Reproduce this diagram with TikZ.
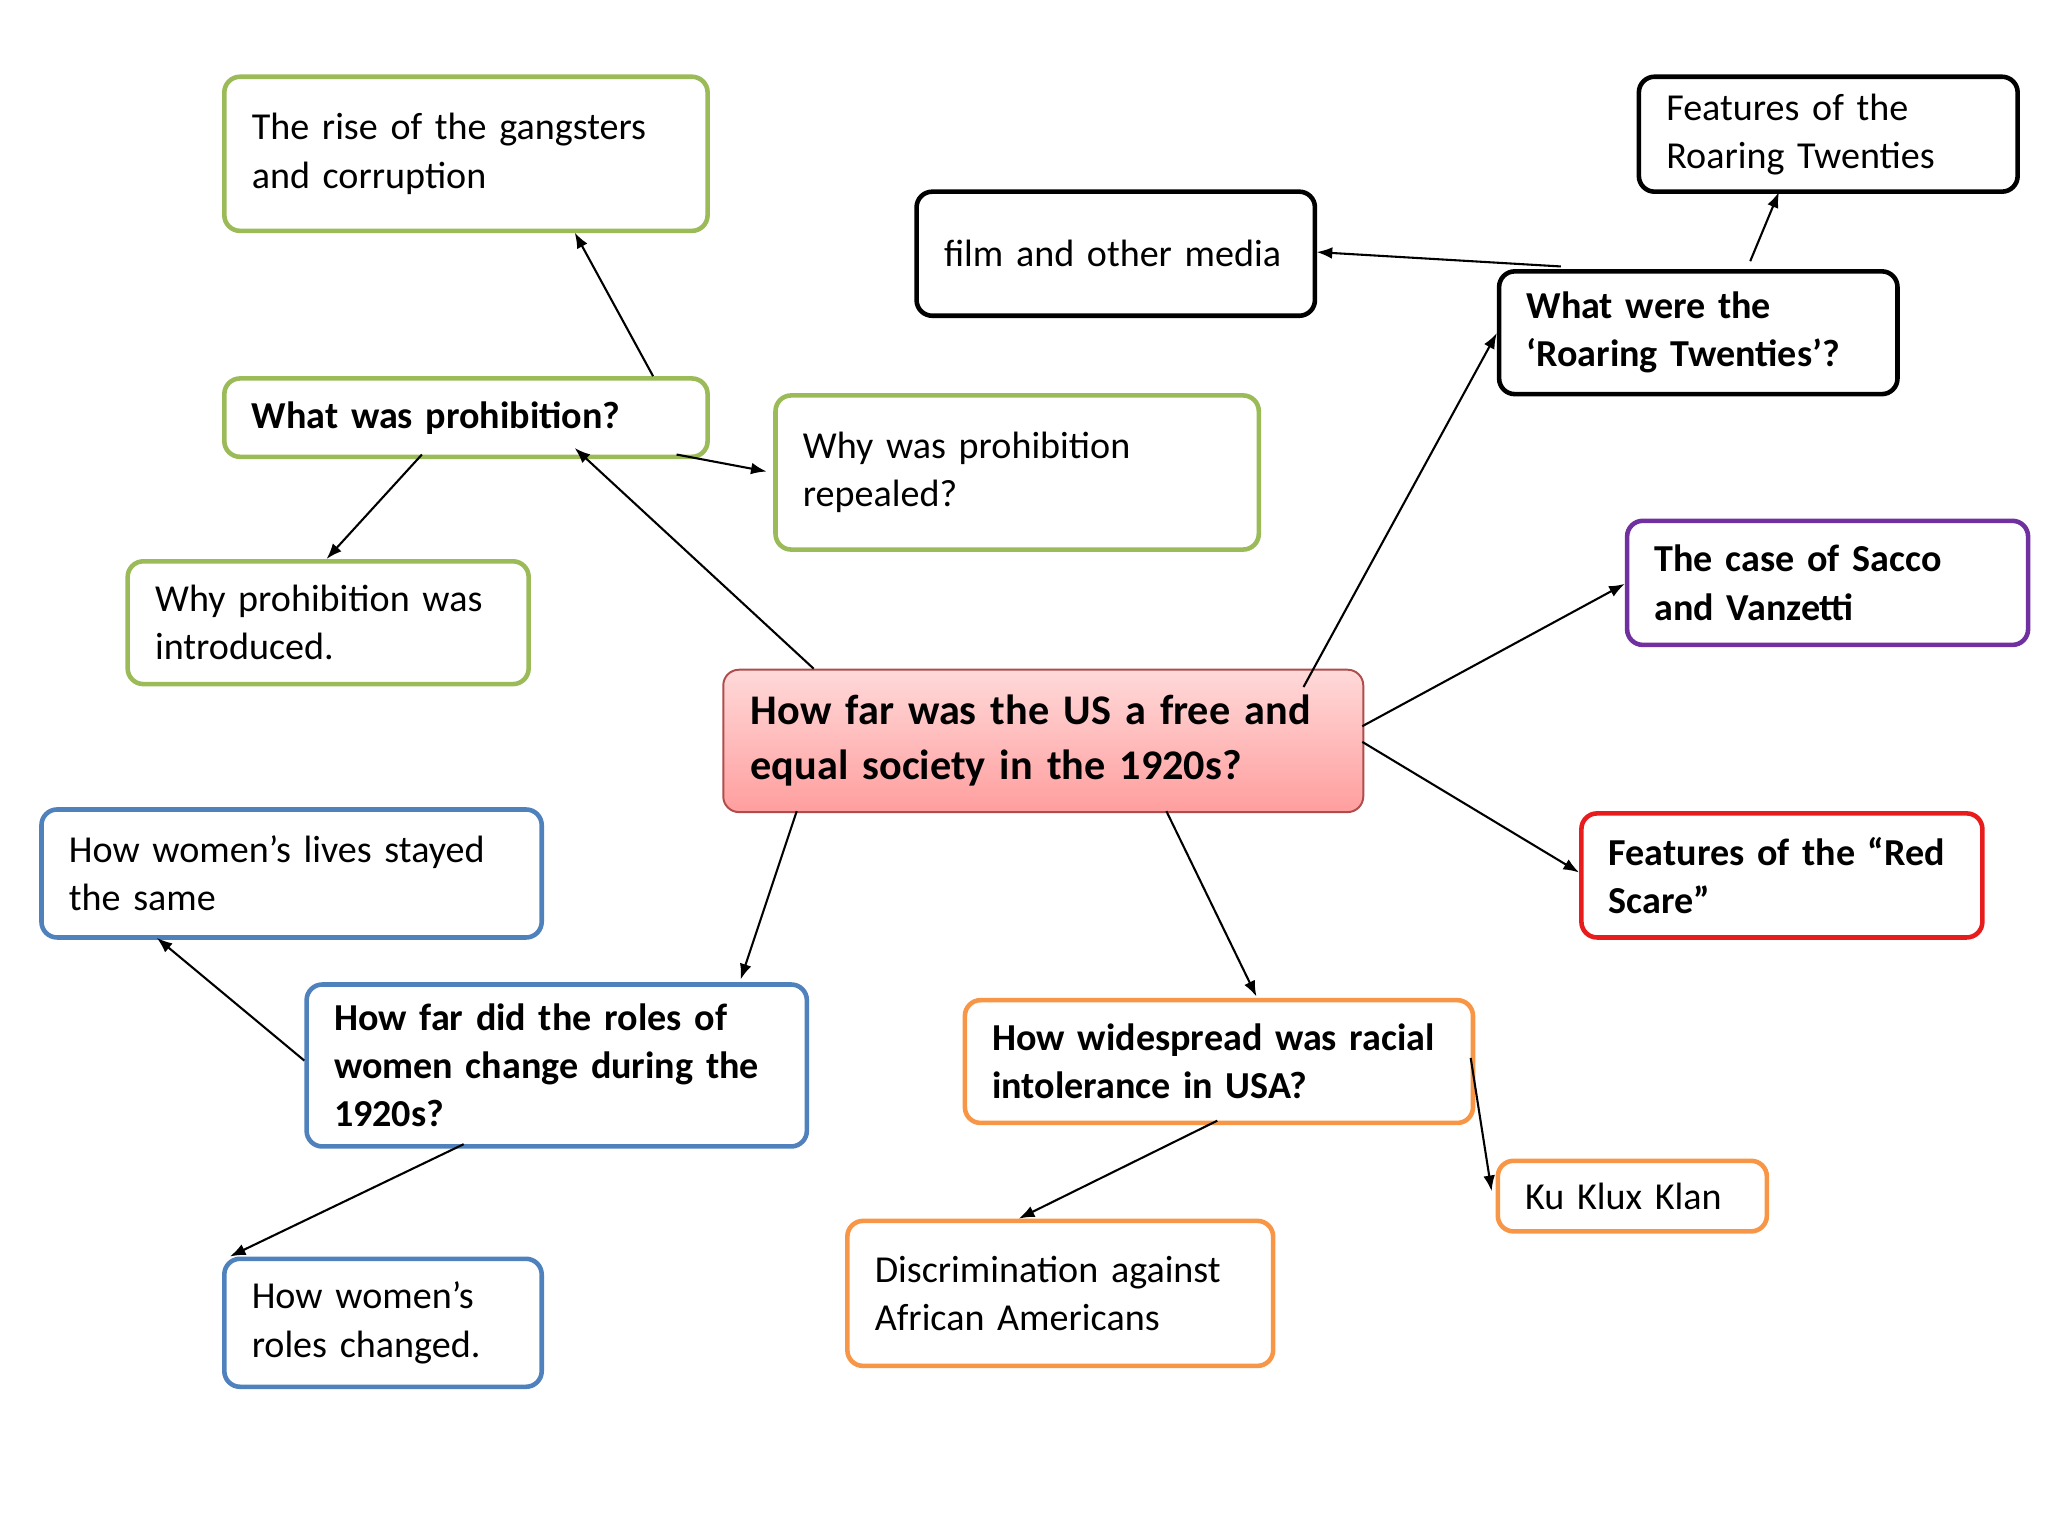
\documentclass[tikz,border=0pt]{standalone}
\usepackage{fontspec}
\setmainfont{Carlito}
\usetikzlibrary{arrows.meta}
\newcommand\p[1]{#1*0.02cm}
% anchor point: offset from a box's north west corner, in px
\newcommand\at[3]{([xshift=\p{#2},yshift=-\p{#3}]#1.north west)}
\begin{document}
\begin{tikzpicture}[x=0.02cm,y=-0.02cm,
box/.style={draw, rounded corners=\p{12}, line width=\p{3.5}, align=left,
  anchor=north west, inner xsep=\p{21}, inner ysep=0pt, font=\fontsize{16.6}{21}\selectfont},
bbox/.style={box, font=\fontsize{16.6}{21}\selectfont\bfseries},
green/.style={draw=cgreen}, blue/.style={draw=cblue},
orange/.style={draw=corange}, purple/.style={draw=cpurple},
red/.style={draw=cred}, black/.style={draw=black},
link/.style={-{Latex[length=\p{12},width=\p{9}]}, line width=\p{1.6}}]
\definecolor{cgreen}{HTML}{9BBB59}
\definecolor{cblue}{HTML}{4F81BD}
\definecolor{corange}{HTML}{F79646}
\definecolor{cpurple}{HTML}{7030A0}
\definecolor{cred}{HTML}{E81C1C}
\useasboundingbox (0,0) rectangle (1568,1176);

% prohibition branch
\node[box, green, text width=\p{328}, minimum height=\p{118}] (gang) at (170,57)
  {The rise of the gangsters\\and corruption\\[6pt]};
\node[bbox, green, text width=\p{328}, minimum height=\p{60}] (prohib) at (170,288)
  {What was prohibition?};
\node[box, green, text width=\p{328}, minimum height=\p{118}] (repeal) at (592,301)
  {Why was prohibition\\repealed?\\[8pt]};
\node[box, green, text width=\p{265}, minimum height=\p{94}] (introd) at (96,428)
  {Why prohibition was\\introduced.};

% roaring twenties branch
\node[box, black, text width=\p{263}, minimum height=\p{95}] (film) at (700,145)
  {film and other media\\[22pt]};
\node[box, black, text width=\p{248}, minimum height=\p{88}] (feat) at (1253,57)
  {Features of the\\Roaring Twenties};
\node[bbox, black, text width=\p{263}, minimum height=\p{94}] (roar) at (1146,206)
  {What were the\\‘Roaring Twenties’?};
\node[bbox, purple, text width=\p{265}, minimum height=\p{95}] (sacco) at (1244,397)
  {The case of Sacco\\and Vanzetti};
\node[bbox, red, text width=\p{265}, minimum height=\p{95}] (redscare) at (1209,621)
  {Features of the “Red\\Scare”};

% central question
\node[bbox, draw=red!55!black!70, line width=\p{1.5}, top color=red!15, bottom color=red!38,
  text width=\p{448}, minimum height=\p{109}, font=\fontsize{18.4}{24}\selectfont\bfseries] (main) at (553,512)
  {How far was the US a free and\\equal society in the 1920s?};

% women branch
\node[box, blue, text width=\p{341}, minimum height=\p{98}] (stayed) at (30,618)
  {How women’s lives stayed\\the same};
\node[bbox, blue, text width=\p{341}, minimum height=\p{124}] (roles) at (233,752)
  {How far did the roles of\\women change during the\\1920s?};
\node[box, blue, text width=\p{201}, minimum height=\p{98}] (changed) at (170,962)
  {How women’s\\roles changed.};

% racial intolerance branch
\node[bbox, orange, text width=\p{347}, minimum height=\p{94}] (racial) at (737,764)
  {How widespread was racial\\intolerance in USA?};
\node[box, orange, text width=\p{164}, minimum height=\p{54}] (kkk) at (1145,887)
  {Ku Klux Klan};
\node[box, orange, text width=\p{284}, minimum height=\p{111}] (discr) at (647,933)
  {Discrimination against\\African Americans\\[6pt]};

\draw[link] \at{prohib}{330}{0} -- \at{gang}{270}{121};
\draw[link] \at{prohib}{348}{60} -- \at{repeal}{-5}{60};
\draw[link] \at{prohib}{153}{60} -- \at{introd}{154}{0};
\draw[link] \at{main}{70}{0} -- \at{prohib}{270}{55};
\draw[link] \at{main}{445}{14} -- \at{roar}{0}{49};
\draw[link] \at{roar}{49}{-2} -- \at{film}{308}{48};
\draw[link] \at{roar}{194}{-6} -- \at{feat}{109}{90};
\draw[link] \at{main}{490}{44} -- \at{sacco}{0}{50};
\draw[link] \at{main}{490}{56} -- \at{redscare}{0}{47};
\draw[link] \at{main}{57}{109} -- \at{roles}{334}{-2};
\draw[link] \at{main}{340}{109} -- \at{racial}{225}{-1};
\draw[link] \at{roles}{0}{60} -- \at{stayed}{90}{100};
\draw[link] \at{roles}{122}{124} -- \at{changed}{6}{0};
\draw[link] \at{racial}{195}{94} -- \at{discr}{133}{0};
\draw[link] \at{racial}{389}{46} -- \at{kkk}{-3}{25};
\end{tikzpicture}
\end{document}
